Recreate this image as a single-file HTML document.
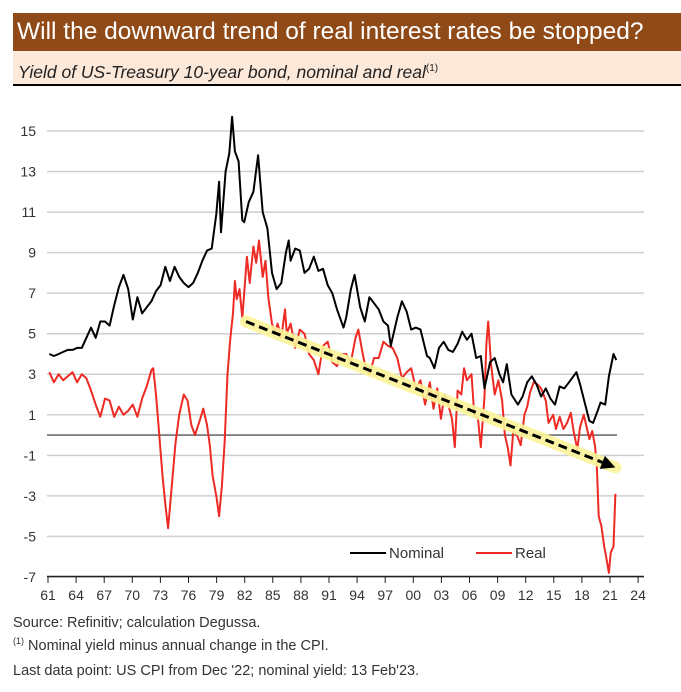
<!DOCTYPE html>
<html><head><meta charset="utf-8"><style>
body{margin:0;background:#fff;font-family:"Liberation Sans",sans-serif;}
#wrap{position:relative;width:681px;height:692px;overflow:hidden;}
#hdr{position:absolute;left:13px;top:13px;width:668px;height:38px;background:#8f4a18;color:#fff;font-size:24.5px;line-height:38px;padding-left:4px;box-sizing:border-box;white-space:nowrap;}
#sub{position:absolute;left:13px;top:51px;width:668px;height:35px;background:#fde9da;border-bottom:2px solid #000;font-style:italic;font-size:17.5px;line-height:36px;padding-left:5px;box-sizing:border-box;color:#222;}
#sub sup{font-size:10px;font-style:normal;}
.ft{position:absolute;left:13px;font-size:14.5px;color:#333;white-space:nowrap;}
.ft sup{font-size:9px;}
svg{position:absolute;left:0;top:0;}
</style></head><body>
<div id="wrap">
<div id="hdr">Will the downward trend of real interest rates be stopped?</div>
<div id="sub">Yield of US-Treasury 10-year bond, nominal and real<sup>(1)</sup></div>
<svg id="chart" width="681" height="692"></svg>
<div class="ft" style="top:615px">Source: Refinitiv; calculation Degussa.</div>
<div class="ft" style="top:636px"><sup>(1)</sup> Nominal yield minus annual change in the CPI.</div>
<div class="ft" style="top:663px">Last data point: US CPI from Dec '22; nominal yield: 13 Feb'23.</div>
</div>
<script>
const yTicks=[15,13,11,9,7,5,3,1,-1,-3,-5,-7];
const xTickLabels=["61","64","67","70","73","76","79","82","85","88","91","94","97","00","03","06","09","12","15","18","21","24"];
const nomYears=[1962,1962.5,1963,1963.5,1964,1964.5,1965,1965.5,1966,1966.5,1967,1967.5,1968,1968.5,1969,1969.5,1970,1970.5,1971,1971.5,1972,1972.5,1973,1973.5,1974,1974.5,1975,1975.5,1976,1976.5,1977,1977.5,1978,1978.5,1979,1979.5,1980,1980.3,1980.5,1981,1981.4,1981.7,1982,1982.4,1982.8,1983,1983.5,1984,1984.5,1985,1985.5,1986,1986.5,1987,1987.5,1987.8,1988,1988.5,1989,1989.5,1990,1990.5,1991,1991.5,1992,1992.5,1993,1993.7,1994,1994.5,1994.9,1995.5,1996,1996.5,1997,1997.5,1998,1998.5,1998.8,1999,1999.5,2000,2000.5,2001,2001.5,2002,2002.7,2003,2003.5,2004,2004.5,2005,2005.5,2006,2006.5,2007,2007.5,2008,2008.5,2008.9,2009.5,2010,2010.5,2010.9,2011.3,2011.8,2012.5,2013,2013.5,2014,2014.5,2015,2015.5,2016,2016.5,2017,2017.5,2018,2018.8,2019.2,2019.7,2020.2,2020.6,2021.1,2021.4,2021.9,2022.3,2022.8,2023.1];
const nomValues=[4.0,3.9,4.0,4.1,4.2,4.2,4.3,4.3,4.8,5.3,4.8,5.6,5.6,5.4,6.4,7.3,7.9,7.2,5.7,6.8,6.0,6.3,6.6,7.1,7.4,8.3,7.6,8.3,7.8,7.5,7.3,7.5,8.0,8.6,9.1,9.2,10.9,12.5,10.0,13.0,13.9,15.7,14.0,13.5,10.6,10.5,11.5,12.0,13.8,11.0,10.2,8.0,7.2,7.5,9.0,9.6,8.6,9.2,9.1,8.0,8.2,8.8,8.1,8.2,7.4,7.0,6.2,5.3,5.8,7.2,7.9,6.3,5.6,6.8,6.5,6.2,5.6,5.4,4.4,4.8,5.8,6.6,6.1,5.2,5.3,5.2,3.9,3.8,3.3,4.3,4.6,4.2,4.1,4.5,5.1,4.7,5.0,3.8,3.9,2.3,3.6,3.8,3.0,2.6,3.5,2.0,1.5,1.9,2.6,2.9,2.5,1.9,2.3,1.8,1.5,2.4,2.3,2.6,3.1,2.5,1.6,0.7,0.6,1.2,1.6,1.5,2.9,4.0,3.7];
const realYears=[1962,1962.5,1963,1963.5,1964,1964.5,1965,1965.5,1966,1966.5,1967,1967.5,1968,1968.5,1969,1969.5,1970,1970.5,1971,1971.5,1972,1972.5,1973,1973.2,1973.5,1973.8,1974.2,1974.5,1974.8,1975.2,1975.6,1976,1976.5,1976.9,1977.3,1977.7,1978.2,1978.6,1979,1979.3,1979.6,1980,1980.3,1980.6,1980.9,1981.2,1981.5,1981.8,1982,1982.2,1982.5,1982.8,1983,1983.3,1983.6,1984,1984.3,1984.6,1985,1985.3,1985.6,1986,1986.3,1986.6,1987,1987.4,1987.6,1988,1988.5,1989,1989.5,1990,1990.5,1991,1991.5,1992,1992.5,1993,1993.5,1994,1994.5,1995,1995.3,1995.7,1996,1996.5,1997,1997.5,1998,1998.5,1999,1999.5,2000,2000.5,2001,2001.5,2002,2002.5,2003,2003.4,2003.8,2004.2,2004.6,2005,2005.4,2005.7,2006,2006.4,2006.7,2007,2007.5,2007.8,2008.2,2008.5,2008.9,2009.1,2009.3,2009.6,2010,2010.4,2010.8,2011.1,2011.4,2011.7,2012,2012.4,2012.8,2013.2,2013.5,2013.8,2014.2,2014.6,2015,2015.5,2015.8,2016.3,2016.6,2017,2017.4,2017.8,2018.2,2018.5,2018.9,2019.2,2019.6,2019.9,2020.2,2020.5,2020.8,2021.0,2021.2,2021.5,2021.8,2022.0,2022.3,2022.5,2022.8,2023.0];
const realValues=[3.1,2.6,3.0,2.7,2.9,3.1,2.6,3.0,2.8,2.2,1.5,0.9,1.8,1.7,0.9,1.4,1.0,1.2,1.5,0.9,1.8,2.4,3.2,3.3,2.0,0.3,-2.0,-3.4,-4.6,-2.5,-0.4,1.0,2.0,1.7,0.5,0.0,0.7,1.3,0.5,-0.5,-2.0,-3.0,-4.0,-2.5,-0.3,3.0,4.7,6.0,7.6,6.7,7.2,5.8,7.0,8.8,7.5,9.3,8.5,9.6,7.8,8.6,6.8,5.5,5.0,5.5,4.8,6.2,5.0,5.5,4.3,5.2,5.0,4.0,3.7,3.0,4.4,4.6,3.6,3.4,4.0,4.0,3.6,4.8,5.2,4.2,3.5,3.0,3.8,3.8,4.6,4.4,4.3,3.8,2.8,3.1,3.3,2.3,2.7,1.5,2.6,1.3,2.3,0.8,2.0,1.5,0.8,-0.6,2.2,2.0,3.3,2.7,3.0,1.0,0.8,-0.6,1.9,4.5,5.6,3.5,2.0,2.7,1.7,0.0,-0.6,-1.5,0.2,0.0,-0.5,1.0,1.4,2.1,2.6,2.5,2.3,1.7,0.6,1.0,0.3,0.9,0.3,0.6,1.1,0.2,-0.7,0.4,1.0,0.4,-0.2,0.2,-0.5,-1.5,-4.0,-4.5,-5.5,-6.0,-6.8,-5.8,-5.5,-2.9];
const trendStart=[1983.2,5.6];
const trendEnd=[2023.0,-1.6];

const NS="http://www.w3.org/2000/svg";
const svg=document.getElementById('chart');
function xS(yr){return 40+(yr-1961)*9.28;}
function yS(v){return 131+(15-v)*20.27;}
function mk(t,a,p){const e=document.createElementNS(NS,t);for(const k in a)e.setAttribute(k,a[k]);(p||svg).appendChild(e);return e;}

yTicks.forEach(v=>{
  const g=mk('line',{x1:47,x2:644,y1:yS(v),y2:yS(v),stroke:'#cfcfcf','stroke-width':1.5});
  
  
  const t=mk('text',{x:36,y:yS(v)+5,'text-anchor':'end','font-size':14,fill:'#333','font-family':'Liberation Sans, sans-serif'});
  t.textContent=v;
  
  
});
const z=mk('line',{x1:47,x2:617,y1:yS(0),y2:yS(0),stroke:'#555','stroke-width':1.3});


const ax=mk('line',{x1:47,x2:644,y1:576.5,y2:576.5,stroke:'#222','stroke-width':1.5});


xTickLabels.forEach((l,i)=>{
  const x=48+i*28.1;
  const tk=mk('line',{x1:x,x2:x,y1:576,y2:583,stroke:'#222','stroke-width':1});
  
  
  const t=mk('text',{x:x,y:600,'text-anchor':'middle','font-size':14,fill:'#333','font-family':'Liberation Sans, sans-serif'});
  t.textContent=l;
  
  
});
function path(xs,vs){return xs.map((y,i)=>(i?'L':'M')+xS(y).toFixed(1)+','+yS(vs[i]).toFixed(1)).join(' ');}
const rl=mk('path',{d:path(realYears,realValues),fill:'none',stroke:'#ee2a24','stroke-width':2,'stroke-linejoin':'round'});


const nl=mk('path',{d:path(nomYears,nomValues),fill:'none',stroke:'#000','stroke-width':2,'stroke-linejoin':'round'});


const x1=xS(trendStart[0]),y1=yS(trendStart[1]),x2=xS(trendEnd[0]),y2=yS(trendEnd[1]);
const glow=mk('line',{x1:x1,y1:y1,x2:x2,y2:y2,stroke:'#fbf59a','stroke-width':12,'stroke-linecap':'round',opacity:0.9});


const ang=Math.atan2(y2-y1,x2-x1);
const bx=x2-14*Math.cos(ang),by=y2-14*Math.sin(ang);
const tr=mk('line',{x1:x1,y1:y1,x2:bx,y2:by,stroke:'#000','stroke-width':3,'stroke-dasharray':'9,5'});


const px=-Math.sin(ang)*7,py=Math.cos(ang)*7;
const ah=mk('polygon',{points:`${x2},${y2} ${bx+px},${by+py} ${bx-px},${by-py}`,fill:'#000'});


const l1=mk('line',{x1:350,x2:386,y1:553,y2:553,stroke:'#000','stroke-width':2});


const t1=mk('text',{x:389,y:558,'font-size':15,fill:'#333','font-family':'Liberation Sans, sans-serif'});
t1.textContent='Nominal';


const l2=mk('line',{x1:476,x2:512,y1:553,y2:553,stroke:'#ee2a24','stroke-width':2});


const t2=mk('text',{x:515,y:558,'font-size':15,fill:'#333','font-family':'Liberation Sans, sans-serif'});
t2.textContent='Real';


</script>
</body></html>
